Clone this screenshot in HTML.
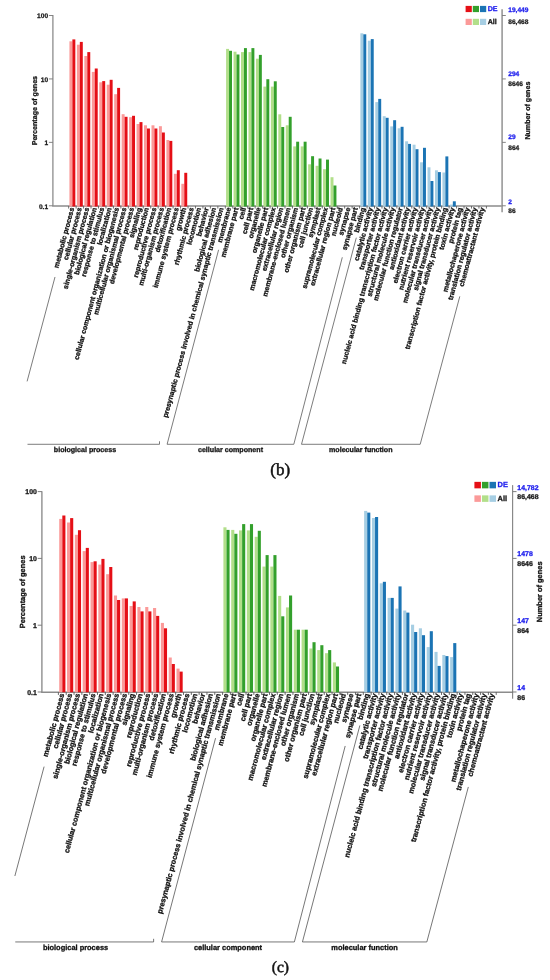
<!DOCTYPE html>
<html><head><meta charset="utf-8"><title>GO classification</title>
<style>html,body{margin:0;padding:0;background:#fff}svg{display:block}text{stroke-width:.28px;text-rendering:geometricPrecision}</style></head>
<body>
<svg width="550" height="980" viewBox="0 0 550 980" font-family="'Liberation Sans', Arial, sans-serif">
<rect width="550" height="980" fill="#fff"/>
<g transform="translate(52.9,15.5) scale(1)">
<g fill="none">
<path d="M0,-0.4 V190.49 H449.2" stroke="#8c8c8c" stroke-width="1.3"/>
<path d="M449.2,196.69 V-6.2" stroke="#999" stroke-width="1.6"/>
<path d="M-4,0 H0 M449.2,0 h3.7 M-4,63.43 H0 M449.2,63.43 h3.7 M-4,126.86 H0 M449.2,126.86 h3.7 M-4,190.29 H0 M449.2,190.29 h3.7 " stroke="#777" stroke-width="0.9"/>
<path d="M15.75,190.69 v2.4 M23.21,190.69 v2.4 M30.67,190.69 v2.4 M38.13,190.69 v2.4 M45.59,190.69 v2.4 M53.05,190.69 v2.4 M60.51,190.69 v2.4 M67.97,190.69 v2.4 M75.43,190.69 v2.4 M82.89,190.69 v2.4 M90.35,190.69 v2.4 M97.81,190.69 v2.4 M105.27,190.69 v2.4 M112.73,190.69 v2.4 M120.19,190.69 v2.4 M127.65,190.69 v2.4 M135.11,190.69 v2.4 M142.57,190.69 v2.4 M150.03,190.69 v2.4 M157.49,190.69 v2.4 M164.95,190.69 v2.4 M172.41,190.69 v2.4 M179.87,190.69 v2.4 M187.33,190.69 v2.4 M194.79,190.69 v2.4 M202.25,190.69 v2.4 M209.71,190.69 v2.4 M217.17,190.69 v2.4 M224.63,190.69 v2.4 M232.09,190.69 v2.4 M239.55,190.69 v2.4 M247.01,190.69 v2.4 M254.47,190.69 v2.4 M261.93,190.69 v2.4 M269.39,190.69 v2.4 M276.85,190.69 v2.4 M284.31,190.69 v2.4 M291.77,190.69 v2.4 M299.23,190.69 v2.4 M306.69,190.69 v2.4 M314.15,190.69 v2.4 M321.61,190.69 v2.4 M329.07,190.69 v2.4 M336.53,190.69 v2.4 M343.99,190.69 v2.4 M351.45,190.69 v2.4 M358.91,190.69 v2.4 M366.37,190.69 v2.4 M373.83,190.69 v2.4 M381.29,190.69 v2.4 M388.75,190.69 v2.4 M396.21,190.69 v2.4 M403.67,190.69 v2.4 M411.13,190.69 v2.4 M418.59,190.69 v2.4 M426.05,190.69 v2.4 M433.51,190.69 v2.4 " stroke-width="0.7" stroke="#333"/>
</g>
<rect x="16.53" y="25.8" width="2.95" height="165.24" fill="#fb9a99"/>
<rect x="19.48" y="23.9" width="2.95" height="167.14" fill="#e50f16"/>
<rect x="23.99" y="29.2" width="2.95" height="161.84" fill="#fb9a99"/>
<rect x="26.94" y="26.4" width="2.95" height="164.64" fill="#e50f16"/>
<rect x="31.45" y="40.5" width="2.95" height="150.54" fill="#fb9a99"/>
<rect x="34.4" y="36.6" width="2.95" height="154.44" fill="#e50f16"/>
<rect x="38.91" y="56.4" width="2.95" height="134.64" fill="#fb9a99"/>
<rect x="41.86" y="53" width="2.95" height="138.04" fill="#e50f16"/>
<rect x="46.37" y="66.8" width="2.95" height="124.24" fill="#fb9a99"/>
<rect x="49.32" y="65.6" width="2.95" height="125.44" fill="#e50f16"/>
<rect x="53.83" y="69.2" width="2.95" height="121.84" fill="#fb9a99"/>
<rect x="56.78" y="64.3" width="2.95" height="126.74" fill="#e50f16"/>
<rect x="61.29" y="78.7" width="2.95" height="112.34" fill="#fb9a99"/>
<rect x="64.24" y="72.4" width="2.95" height="118.64" fill="#e50f16"/>
<rect x="68.75" y="98.7" width="2.95" height="92.34" fill="#fb9a99"/>
<rect x="71.7" y="101.3" width="2.95" height="89.74" fill="#e50f16"/>
<rect x="76.21" y="101.7" width="2.95" height="89.34" fill="#fb9a99"/>
<rect x="79.16" y="100.3" width="2.95" height="90.74" fill="#e50f16"/>
<rect x="83.67" y="108.5" width="2.95" height="82.54" fill="#fb9a99"/>
<rect x="86.62" y="106.6" width="2.95" height="84.44" fill="#e50f16"/>
<rect x="91.13" y="109.8" width="2.95" height="81.24" fill="#fb9a99"/>
<rect x="94.08" y="113" width="2.95" height="78.04" fill="#e50f16"/>
<rect x="98.59" y="109.8" width="2.95" height="81.24" fill="#fb9a99"/>
<rect x="101.54" y="113" width="2.95" height="78.04" fill="#e50f16"/>
<rect x="106.05" y="110.7" width="2.95" height="80.34" fill="#fb9a99"/>
<rect x="109" y="117" width="2.95" height="74.04" fill="#e50f16"/>
<rect x="113.51" y="124.5" width="2.95" height="66.54" fill="#fb9a99"/>
<rect x="116.46" y="125.4" width="2.95" height="65.64" fill="#e50f16"/>
<rect x="120.97" y="158.3" width="2.95" height="32.74" fill="#fb9a99"/>
<rect x="123.92" y="154.7" width="2.95" height="36.34" fill="#e50f16"/>
<rect x="128.43" y="168.3" width="2.95" height="22.74" fill="#fb9a99"/>
<rect x="131.38" y="157.3" width="2.95" height="33.74" fill="#e50f16"/>
<rect x="173.19" y="33.4" width="2.95" height="157.64" fill="#b2df8a"/>
<rect x="176.14" y="35.3" width="2.95" height="155.74" fill="#33a02c"/>
<rect x="180.65" y="36.2" width="2.95" height="154.84" fill="#b2df8a"/>
<rect x="183.6" y="39" width="2.95" height="152.04" fill="#33a02c"/>
<rect x="188.11" y="36.6" width="2.95" height="154.44" fill="#b2df8a"/>
<rect x="191.06" y="32.6" width="2.95" height="158.44" fill="#33a02c"/>
<rect x="195.57" y="36.6" width="2.95" height="154.44" fill="#b2df8a"/>
<rect x="198.52" y="32.6" width="2.95" height="158.44" fill="#33a02c"/>
<rect x="203.03" y="43.2" width="2.95" height="147.84" fill="#b2df8a"/>
<rect x="205.98" y="39.4" width="2.95" height="151.64" fill="#33a02c"/>
<rect x="210.49" y="71.1" width="2.95" height="119.94" fill="#b2df8a"/>
<rect x="213.44" y="63.7" width="2.95" height="127.34" fill="#33a02c"/>
<rect x="217.95" y="71.1" width="2.95" height="119.94" fill="#b2df8a"/>
<rect x="220.9" y="65.8" width="2.95" height="125.24" fill="#33a02c"/>
<rect x="225.41" y="98.8" width="2.95" height="92.24" fill="#b2df8a"/>
<rect x="228.36" y="111.5" width="2.95" height="79.54" fill="#33a02c"/>
<rect x="232.87" y="109.8" width="2.95" height="81.24" fill="#b2df8a"/>
<rect x="235.82" y="101.3" width="2.95" height="89.74" fill="#33a02c"/>
<rect x="240.33" y="130.9" width="2.95" height="60.14" fill="#b2df8a"/>
<rect x="243.28" y="126.2" width="2.95" height="64.84" fill="#33a02c"/>
<rect x="247.79" y="130.9" width="2.95" height="60.14" fill="#b2df8a"/>
<rect x="250.74" y="126.2" width="2.95" height="64.84" fill="#33a02c"/>
<rect x="255.25" y="148.8" width="2.95" height="42.24" fill="#b2df8a"/>
<rect x="258.2" y="140.7" width="2.95" height="50.34" fill="#33a02c"/>
<rect x="262.71" y="150.3" width="2.95" height="40.74" fill="#b2df8a"/>
<rect x="265.66" y="143" width="2.95" height="48.04" fill="#33a02c"/>
<rect x="270.17" y="153.7" width="2.95" height="37.34" fill="#b2df8a"/>
<rect x="273.12" y="144.1" width="2.95" height="46.94" fill="#33a02c"/>
<rect x="277.63" y="161.7" width="2.95" height="29.34" fill="#b2df8a"/>
<rect x="280.58" y="170" width="2.95" height="21.04" fill="#33a02c"/>
<rect x="307.47" y="17.8" width="2.95" height="173.24" fill="#a6cee3"/>
<rect x="310.42" y="18.8" width="2.95" height="172.24" fill="#1b74b4"/>
<rect x="314.93" y="25.2" width="2.95" height="165.84" fill="#a6cee3"/>
<rect x="317.88" y="23.6" width="2.95" height="167.44" fill="#1b74b4"/>
<rect x="322.39" y="86.6" width="2.95" height="104.44" fill="#a6cee3"/>
<rect x="325.34" y="83.4" width="2.95" height="107.64" fill="#1b74b4"/>
<rect x="329.85" y="100.7" width="2.95" height="90.34" fill="#a6cee3"/>
<rect x="332.8" y="102.3" width="2.95" height="88.74" fill="#1b74b4"/>
<rect x="337.31" y="110.9" width="2.95" height="80.14" fill="#a6cee3"/>
<rect x="340.26" y="104.7" width="2.95" height="86.34" fill="#1b74b4"/>
<rect x="344.77" y="112.8" width="2.95" height="78.24" fill="#a6cee3"/>
<rect x="347.72" y="111.3" width="2.95" height="79.74" fill="#1b74b4"/>
<rect x="352.23" y="125.8" width="2.95" height="65.24" fill="#a6cee3"/>
<rect x="355.18" y="128.4" width="2.95" height="62.64" fill="#1b74b4"/>
<rect x="359.69" y="129.2" width="2.95" height="61.84" fill="#a6cee3"/>
<rect x="362.64" y="133.7" width="2.95" height="57.34" fill="#1b74b4"/>
<rect x="367.15" y="146.8" width="2.95" height="44.24" fill="#a6cee3"/>
<rect x="370.1" y="132.3" width="2.95" height="58.74" fill="#1b74b4"/>
<rect x="374.61" y="151.8" width="2.95" height="39.24" fill="#a6cee3"/>
<rect x="377.56" y="165.5" width="2.95" height="25.54" fill="#1b74b4"/>
<rect x="382.07" y="154.8" width="2.95" height="36.24" fill="#a6cee3"/>
<rect x="385.02" y="156.6" width="2.95" height="34.44" fill="#1b74b4"/>
<rect x="389.53" y="157" width="2.95" height="34.04" fill="#a6cee3"/>
<rect x="392.48" y="140.9" width="2.95" height="50.14" fill="#1b74b4"/>
<rect x="396.99" y="189.1" width="2.95" height="1.94" fill="#a6cee3"/>
<rect x="399.94" y="185.8" width="2.95" height="5.24" fill="#1b74b4"/>
<g font-size="6.6" font-weight="bold" fill="#1a1a1a" stroke="#1a1a1a">
<text x="-4.8" y="2.9" text-anchor="end">100</text>
<text x="-4.8" y="66.33" text-anchor="end">10</text>
<text x="-4.8" y="129.76" text-anchor="end">1</text>
<text x="-4.8" y="193.19" text-anchor="end">0.1</text>
<text x="455.4" y="-3.6" fill="#2222ee" stroke="#2222ee">19,449</text>
<text x="455.4" y="8.1">86,468</text>
<text x="455.4" y="60.13" fill="#2222ee" stroke="#2222ee">294</text>
<text x="455.4" y="70.63">8646</text>
<text x="455.4" y="123.56" fill="#2222ee" stroke="#2222ee">29</text>
<text x="455.4" y="134.06">864</text>
<text x="455.4" y="188.79" fill="#2222ee" stroke="#2222ee">2</text>
<text x="455.4" y="197.49">86</text>
</g>
<g font-size="7.1" font-weight="bold" fill="#111" stroke="#111" text-anchor="middle">
<text transform="translate(-16.1,95.14) rotate(-90)">Percentage of genes</text>
<text transform="translate(476.7,95.14) rotate(-90)">Number of genes</text>
</g>
<rect x="412.7" y="-9.6" width="6.2" height="6.2" fill="#e50f16"/>
<rect x="419.9" y="-9.6" width="6.2" height="6.2" fill="#33a02c"/>
<rect x="427.1" y="-9.6" width="6.2" height="6.2" fill="#1b74b4"/>
<text x="434.8" y="-4.7" font-size="7.1" font-weight="bold" fill="#2222ee" stroke="#2222ee">DE</text>
<rect x="412.7" y="3.3" width="6.2" height="6.2" fill="#fb9a99"/>
<rect x="419.9" y="3.3" width="6.2" height="6.2" fill="#b2df8a"/>
<rect x="427.1" y="3.3" width="6.2" height="6.2" fill="#a6cee3"/>
<text x="434.8" y="8.2" font-size="7.1" font-weight="bold" fill="#111" stroke="#111">All</text>
<g font-size="7.1" font-weight="bold" fill="#111" stroke="#111" text-anchor="end">
<text transform="translate(21.48,192.79) rotate(-75)">metabolic process</text>
<text transform="translate(28.94,192.79) rotate(-75)">cellular process</text>
<text transform="translate(36.4,192.79) rotate(-75)">single-organism process</text>
<text transform="translate(43.86,192.79) rotate(-75)">biological regulation</text>
<text transform="translate(51.32,192.79) rotate(-75)">response to stimulus</text>
<text transform="translate(58.78,192.79) rotate(-75)">localization</text>
<text transform="translate(66.24,192.79) rotate(-75)">cellular component organization or biogenesis</text>
<text transform="translate(73.7,192.79) rotate(-75)">multicellular organismal process</text>
<text transform="translate(81.16,192.79) rotate(-75)">developmental process</text>
<text transform="translate(88.62,192.79) rotate(-75)">signaling</text>
<text transform="translate(96.08,192.79) rotate(-75)">reproduction</text>
<text transform="translate(103.54,192.79) rotate(-75)">reproductive process</text>
<text transform="translate(111,192.79) rotate(-75)">multi-organism process</text>
<text transform="translate(118.46,192.79) rotate(-75)">detoxification</text>
<text transform="translate(125.92,192.79) rotate(-75)">immune system process</text>
<text transform="translate(133.38,192.79) rotate(-75)">growth</text>
<text transform="translate(140.84,192.79) rotate(-75)">rhythmic process</text>
<text transform="translate(148.3,192.79) rotate(-75)">locomotion</text>
<text transform="translate(155.76,192.79) rotate(-75)">behavior</text>
<text transform="translate(163.22,192.79) rotate(-75)">biological adhesion</text>
<text transform="translate(170.68,192.79) rotate(-75)">presynaptic process involved in chemical synaptic transmission</text>
<text transform="translate(178.14,192.79) rotate(-75)">membrane</text>
<text transform="translate(185.6,192.79) rotate(-75)">membrane part</text>
<text transform="translate(193.06,192.79) rotate(-75)">cell</text>
<text transform="translate(200.52,192.79) rotate(-75)">cell part</text>
<text transform="translate(207.98,192.79) rotate(-75)">organelle</text>
<text transform="translate(215.44,192.79) rotate(-75)">organelle part</text>
<text transform="translate(222.9,192.79) rotate(-75)">macromolecular complex</text>
<text transform="translate(230.36,192.79) rotate(-75)">extracellular region</text>
<text transform="translate(237.82,192.79) rotate(-75)">membrane-enclosed lumen</text>
<text transform="translate(245.28,192.79) rotate(-75)">other organism</text>
<text transform="translate(252.74,192.79) rotate(-75)">other organism part</text>
<text transform="translate(260.2,192.79) rotate(-75)">cell junction</text>
<text transform="translate(267.66,192.79) rotate(-75)">symplast</text>
<text transform="translate(275.12,192.79) rotate(-75)">supramolecular complex</text>
<text transform="translate(282.58,192.79) rotate(-75)">extracellular region part</text>
<text transform="translate(290.04,192.79) rotate(-75)">nucleoid</text>
<text transform="translate(297.5,192.79) rotate(-75)">synapse</text>
<text transform="translate(304.96,192.79) rotate(-75)">synapse part</text>
<text transform="translate(312.42,192.79) rotate(-75)">binding</text>
<text transform="translate(319.88,192.79) rotate(-75)">catalytic activity</text>
<text transform="translate(327.34,192.79) rotate(-75)">transporter activity</text>
<text transform="translate(334.8,192.79) rotate(-75)">nucleic acid binding transcription factor activity</text>
<text transform="translate(342.26,192.79) rotate(-75)">structural molecule activity</text>
<text transform="translate(349.72,192.79) rotate(-75)">molecular function regulator</text>
<text transform="translate(357.18,192.79) rotate(-75)">antioxidant activity</text>
<text transform="translate(364.64,192.79) rotate(-75)">electron carrier activity</text>
<text transform="translate(372.1,192.79) rotate(-75)">nutrient reservoir activity</text>
<text transform="translate(379.56,192.79) rotate(-75)">molecular transducer activity</text>
<text transform="translate(387.02,192.79) rotate(-75)">signal transducer activity</text>
<text transform="translate(394.48,192.79) rotate(-75)">transcription factor activity, protein binding</text>
<text transform="translate(401.94,192.79) rotate(-75)">toxin activity</text>
<text transform="translate(409.4,192.79) rotate(-75)">protein tag</text>
<text transform="translate(416.86,192.79) rotate(-75)">metallochaperone activity</text>
<text transform="translate(424.32,192.79) rotate(-75)">translation regulator activity</text>
<text transform="translate(431.78,192.79) rotate(-75)">chemoattractant activity</text>
</g>
<path d="M2.1,261.49 L-25.8,365.89 M-25.4,428.79 H106.6 v-3 M165.7,234.29 L114.2,428.79 H240.9 L289.4,241.79 M303.4,222.19 L248.6,428.79 H367.3 L406.9,280.89" stroke="#444" stroke-width="0.7" fill="none"/>
<g font-size="7.1" font-weight="bold" fill="#111" stroke="#111" text-anchor="middle">
<text x="32.1" y="436.59">biological process</text>
<text x="177.6" y="436.59">cellular component</text>
<text x="307.9" y="436.59">molecular function</text>
</g>
</g>
<text x="280.2" y="474.9" font-family="'Liberation Serif', serif" font-size="17" text-anchor="middle" fill="#111" stroke="#111" style="stroke-width:.5px">(b)</text>
<g transform="translate(41.9,491.6) scale(1.048)">
<g fill="none">
<path d="M0,-0.4 V191.42 H449.2" stroke="#8c8c8c" stroke-width="1.3"/>
<path d="M449.2,197.62 V-6.2" stroke="#6a6a6a" stroke-width="0.9"/>
<path d="M-4,0 H0 M449.2,0 h3.7 M-4,63.74 H0 M449.2,63.74 h3.7 M-4,127.48 H0 M449.2,127.48 h3.7 M-4,191.22 H0 M449.2,191.22 h3.7 " stroke="#777" stroke-width="0.9"/>
<path d="M15.75,191.62 v2.4 M23.21,191.62 v2.4 M30.67,191.62 v2.4 M38.13,191.62 v2.4 M45.59,191.62 v2.4 M53.05,191.62 v2.4 M60.51,191.62 v2.4 M67.97,191.62 v2.4 M75.43,191.62 v2.4 M82.89,191.62 v2.4 M90.35,191.62 v2.4 M97.81,191.62 v2.4 M105.27,191.62 v2.4 M112.73,191.62 v2.4 M120.19,191.62 v2.4 M127.65,191.62 v2.4 M135.11,191.62 v2.4 M142.57,191.62 v2.4 M150.03,191.62 v2.4 M157.49,191.62 v2.4 M164.95,191.62 v2.4 M172.41,191.62 v2.4 M179.87,191.62 v2.4 M187.33,191.62 v2.4 M194.79,191.62 v2.4 M202.25,191.62 v2.4 M209.71,191.62 v2.4 M217.17,191.62 v2.4 M224.63,191.62 v2.4 M232.09,191.62 v2.4 M239.55,191.62 v2.4 M247.01,191.62 v2.4 M254.47,191.62 v2.4 M261.93,191.62 v2.4 M269.39,191.62 v2.4 M276.85,191.62 v2.4 M284.31,191.62 v2.4 M291.77,191.62 v2.4 M299.23,191.62 v2.4 M306.69,191.62 v2.4 M314.15,191.62 v2.4 M321.61,191.62 v2.4 M329.07,191.62 v2.4 M336.53,191.62 v2.4 M343.99,191.62 v2.4 M351.45,191.62 v2.4 M358.91,191.62 v2.4 M366.37,191.62 v2.4 M373.83,191.62 v2.4 M381.29,191.62 v2.4 M388.75,191.62 v2.4 M396.21,191.62 v2.4 M403.67,191.62 v2.4 M411.13,191.62 v2.4 M418.59,191.62 v2.4 M426.05,191.62 v2.4 M433.51,191.62 v2.4 " stroke-width="0.7" stroke="#333"/>
</g>
<rect x="16.53" y="26.05" width="2.95" height="165.42" fill="#fb9a99"/>
<rect x="19.48" y="22.81" width="2.95" height="168.66" fill="#e50f16"/>
<rect x="23.99" y="29.48" width="2.95" height="161.99" fill="#fb9a99"/>
<rect x="26.94" y="25.29" width="2.95" height="166.18" fill="#e50f16"/>
<rect x="31.45" y="41.22" width="2.95" height="150.25" fill="#fb9a99"/>
<rect x="34.4" y="36.83" width="2.95" height="154.64" fill="#e50f16"/>
<rect x="38.91" y="56.77" width="2.95" height="134.7" fill="#fb9a99"/>
<rect x="41.86" y="53.72" width="2.95" height="137.75" fill="#e50f16"/>
<rect x="46.37" y="67.27" width="2.95" height="124.2" fill="#fb9a99"/>
<rect x="49.32" y="66.51" width="2.95" height="124.96" fill="#e50f16"/>
<rect x="53.83" y="69.66" width="2.95" height="121.81" fill="#fb9a99"/>
<rect x="56.78" y="64.22" width="2.95" height="127.25" fill="#e50f16"/>
<rect x="61.29" y="78.82" width="2.95" height="112.65" fill="#fb9a99"/>
<rect x="64.24" y="71.95" width="2.95" height="119.52" fill="#e50f16"/>
<rect x="68.75" y="99.14" width="2.95" height="92.33" fill="#fb9a99"/>
<rect x="71.7" y="103.44" width="2.95" height="88.03" fill="#e50f16"/>
<rect x="76.21" y="101.91" width="2.95" height="89.56" fill="#fb9a99"/>
<rect x="79.16" y="101.91" width="2.95" height="89.56" fill="#e50f16"/>
<rect x="83.67" y="109.16" width="2.95" height="82.31" fill="#fb9a99"/>
<rect x="86.62" y="104.77" width="2.95" height="86.7" fill="#e50f16"/>
<rect x="91.13" y="110.11" width="2.95" height="81.36" fill="#fb9a99"/>
<rect x="94.08" y="114.31" width="2.95" height="77.16" fill="#e50f16"/>
<rect x="98.59" y="110.11" width="2.95" height="81.36" fill="#fb9a99"/>
<rect x="101.54" y="114.31" width="2.95" height="77.16" fill="#e50f16"/>
<rect x="106.05" y="111.07" width="2.95" height="80.4" fill="#fb9a99"/>
<rect x="109" y="118.61" width="2.95" height="72.86" fill="#e50f16"/>
<rect x="113.51" y="125.29" width="2.95" height="66.18" fill="#fb9a99"/>
<rect x="116.46" y="130.44" width="2.95" height="61.03" fill="#e50f16"/>
<rect x="120.97" y="158.3" width="2.95" height="33.17" fill="#fb9a99"/>
<rect x="123.92" y="164.5" width="2.95" height="26.97" fill="#e50f16"/>
<rect x="128.43" y="168.89" width="2.95" height="22.58" fill="#fb9a99"/>
<rect x="131.38" y="171.76" width="2.95" height="19.71" fill="#e50f16"/>
<rect x="173.19" y="34.06" width="2.95" height="157.41" fill="#b2df8a"/>
<rect x="176.14" y="36.55" width="2.95" height="154.92" fill="#33a02c"/>
<rect x="180.65" y="36.55" width="2.95" height="154.92" fill="#b2df8a"/>
<rect x="183.6" y="40.27" width="2.95" height="151.2" fill="#33a02c"/>
<rect x="188.11" y="37.02" width="2.95" height="154.45" fill="#b2df8a"/>
<rect x="191.06" y="31.01" width="2.95" height="160.46" fill="#33a02c"/>
<rect x="195.57" y="37.02" width="2.95" height="154.45" fill="#b2df8a"/>
<rect x="198.52" y="31.01" width="2.95" height="160.46" fill="#33a02c"/>
<rect x="203.03" y="43.13" width="2.95" height="148.34" fill="#b2df8a"/>
<rect x="205.98" y="37.4" width="2.95" height="154.07" fill="#33a02c"/>
<rect x="210.49" y="71.56" width="2.95" height="119.91" fill="#b2df8a"/>
<rect x="213.44" y="60.59" width="2.95" height="130.88" fill="#33a02c"/>
<rect x="217.95" y="71.56" width="2.95" height="119.91" fill="#b2df8a"/>
<rect x="220.9" y="60.59" width="2.95" height="130.88" fill="#33a02c"/>
<rect x="225.41" y="99.52" width="2.95" height="91.95" fill="#b2df8a"/>
<rect x="228.36" y="118.99" width="2.95" height="72.48" fill="#33a02c"/>
<rect x="232.87" y="110.5" width="2.95" height="80.97" fill="#b2df8a"/>
<rect x="235.82" y="99.14" width="2.95" height="92.33" fill="#33a02c"/>
<rect x="240.33" y="131.77" width="2.95" height="59.7" fill="#b2df8a"/>
<rect x="243.28" y="131.77" width="2.95" height="59.7" fill="#33a02c"/>
<rect x="247.79" y="131.77" width="2.95" height="59.7" fill="#b2df8a"/>
<rect x="250.74" y="131.77" width="2.95" height="59.7" fill="#33a02c"/>
<rect x="255.25" y="149.71" width="2.95" height="41.76" fill="#b2df8a"/>
<rect x="258.2" y="143.7" width="2.95" height="47.77" fill="#33a02c"/>
<rect x="262.71" y="151.24" width="2.95" height="40.23" fill="#b2df8a"/>
<rect x="265.66" y="146.56" width="2.95" height="44.91" fill="#33a02c"/>
<rect x="270.17" y="154.2" width="2.95" height="37.27" fill="#b2df8a"/>
<rect x="273.12" y="151.24" width="2.95" height="40.23" fill="#33a02c"/>
<rect x="277.63" y="162.98" width="2.95" height="28.49" fill="#b2df8a"/>
<rect x="280.58" y="166.89" width="2.95" height="24.58" fill="#33a02c"/>
<rect x="307.47" y="18.42" width="2.95" height="173.05" fill="#a6cee3"/>
<rect x="310.42" y="20.04" width="2.95" height="171.43" fill="#1b74b4"/>
<rect x="314.93" y="25.19" width="2.95" height="166.28" fill="#a6cee3"/>
<rect x="317.88" y="24.24" width="2.95" height="167.23" fill="#1b74b4"/>
<rect x="322.39" y="87.5" width="2.95" height="103.97" fill="#a6cee3"/>
<rect x="325.34" y="86.07" width="2.95" height="105.4" fill="#1b74b4"/>
<rect x="329.85" y="101.43" width="2.95" height="90.04" fill="#a6cee3"/>
<rect x="332.8" y="101.43" width="2.95" height="90.04" fill="#1b74b4"/>
<rect x="337.31" y="111.64" width="2.95" height="79.83" fill="#a6cee3"/>
<rect x="340.26" y="90.46" width="2.95" height="101.01" fill="#1b74b4"/>
<rect x="344.77" y="113.45" width="2.95" height="78.02" fill="#a6cee3"/>
<rect x="347.72" y="115.46" width="2.95" height="76.01" fill="#1b74b4"/>
<rect x="352.23" y="127" width="2.95" height="64.47" fill="#a6cee3"/>
<rect x="355.18" y="133.97" width="2.95" height="57.5" fill="#1b74b4"/>
<rect x="359.69" y="130.44" width="2.95" height="61.03" fill="#a6cee3"/>
<rect x="362.64" y="137.02" width="2.95" height="54.45" fill="#1b74b4"/>
<rect x="367.15" y="148.38" width="2.95" height="43.09" fill="#a6cee3"/>
<rect x="370.1" y="133.21" width="2.95" height="58.26" fill="#1b74b4"/>
<rect x="374.61" y="152.96" width="2.95" height="38.51" fill="#a6cee3"/>
<rect x="377.56" y="166.32" width="2.95" height="25.15" fill="#1b74b4"/>
<rect x="382.07" y="155.92" width="2.95" height="35.55" fill="#a6cee3"/>
<rect x="385.02" y="156.97" width="2.95" height="34.5" fill="#1b74b4"/>
<rect x="389.53" y="157.92" width="2.95" height="33.55" fill="#a6cee3"/>
<rect x="392.48" y="144.56" width="2.95" height="46.91" fill="#1b74b4"/>
<rect x="396.99" y="189.98" width="2.95" height="1.49" fill="#a6cee3"/>
<g font-size="6.6" font-weight="bold" fill="#1a1a1a" stroke="#1a1a1a">
<text x="-4.8" y="2.15" text-anchor="end">100</text>
<text x="-4.8" y="66.64" text-anchor="end">10</text>
<text x="-4.8" y="130.38" text-anchor="end">1</text>
<text x="-4.8" y="194.12" text-anchor="end">0.1</text>
<text x="453.7" y="-1.75" fill="#2222ee" stroke="#2222ee">14,782</text>
<text x="453.7" y="6.6">86,468</text>
<text x="453.7" y="61.19" fill="#2222ee" stroke="#2222ee">1478</text>
<text x="453.7" y="71.44">8646</text>
<text x="453.7" y="124.93" fill="#2222ee" stroke="#2222ee">147</text>
<text x="453.7" y="135.18">864</text>
<text x="453.7" y="188.92" fill="#2222ee" stroke="#2222ee">14</text>
<text x="453.7" y="198.92">86</text>
</g>
<g font-size="7.1" font-weight="bold" fill="#111" stroke="#111" text-anchor="middle">
<text transform="translate(-16.1,95.61) rotate(-90)">Percentage of genes</text>
<text transform="translate(477.4,95.61) rotate(-90)">Number of genes</text>
</g>
<rect x="412.7" y="-9.3" width="6.2" height="6.2" fill="#e50f16"/>
<rect x="419.9" y="-9.3" width="6.2" height="6.2" fill="#33a02c"/>
<rect x="427.1" y="-9.3" width="6.2" height="6.2" fill="#1b74b4"/>
<text x="434.8" y="-4.4" font-size="7.1" font-weight="bold" fill="#2222ee" stroke="#2222ee">DE</text>
<rect x="412.7" y="3.6" width="6.2" height="6.2" fill="#fb9a99"/>
<rect x="419.9" y="3.6" width="6.2" height="6.2" fill="#b2df8a"/>
<rect x="427.1" y="3.6" width="6.2" height="6.2" fill="#a6cee3"/>
<text x="434.8" y="8.5" font-size="7.1" font-weight="bold" fill="#111" stroke="#111">All</text>
<g font-size="7.1" font-weight="bold" fill="#111" stroke="#111" text-anchor="end">
<text transform="translate(21.48,193.42) rotate(-75)">metabolic process</text>
<text transform="translate(28.94,193.42) rotate(-75)">cellular process</text>
<text transform="translate(36.4,193.42) rotate(-75)">single-organism process</text>
<text transform="translate(43.86,193.42) rotate(-75)">biological regulation</text>
<text transform="translate(51.32,193.42) rotate(-75)">response to stimulus</text>
<text transform="translate(58.78,193.42) rotate(-75)">localization</text>
<text transform="translate(66.24,193.42) rotate(-75)">cellular component organization or biogenesis</text>
<text transform="translate(73.7,193.42) rotate(-75)">multicellular organismal process</text>
<text transform="translate(81.16,193.42) rotate(-75)">developmental process</text>
<text transform="translate(88.62,193.42) rotate(-75)">signaling</text>
<text transform="translate(96.08,193.42) rotate(-75)">reproduction</text>
<text transform="translate(103.54,193.42) rotate(-75)">reproductive process</text>
<text transform="translate(111,193.42) rotate(-75)">multi-organism process</text>
<text transform="translate(118.46,193.42) rotate(-75)">detoxification</text>
<text transform="translate(125.92,193.42) rotate(-75)">immune system process</text>
<text transform="translate(133.38,193.42) rotate(-75)">growth</text>
<text transform="translate(140.84,193.42) rotate(-75)">rhythmic process</text>
<text transform="translate(148.3,193.42) rotate(-75)">locomotion</text>
<text transform="translate(155.76,193.42) rotate(-75)">behavior</text>
<text transform="translate(163.22,193.42) rotate(-75)">biological adhesion</text>
<text transform="translate(170.68,193.42) rotate(-75)">presynaptic process involved in chemical synaptic transmission</text>
<text transform="translate(178.14,193.42) rotate(-75)">membrane</text>
<text transform="translate(185.6,193.42) rotate(-75)">membrane part</text>
<text transform="translate(193.06,193.42) rotate(-75)">cell</text>
<text transform="translate(200.52,193.42) rotate(-75)">cell part</text>
<text transform="translate(207.98,193.42) rotate(-75)">organelle</text>
<text transform="translate(215.44,193.42) rotate(-75)">organelle part</text>
<text transform="translate(222.9,193.42) rotate(-75)">macromolecular complex</text>
<text transform="translate(230.36,193.42) rotate(-75)">extracellular region</text>
<text transform="translate(237.82,193.42) rotate(-75)">membrane-enclosed lumen</text>
<text transform="translate(245.28,193.42) rotate(-75)">other organism</text>
<text transform="translate(252.74,193.42) rotate(-75)">other organism part</text>
<text transform="translate(260.2,193.42) rotate(-75)">cell junction</text>
<text transform="translate(267.66,193.42) rotate(-75)">symplast</text>
<text transform="translate(275.12,193.42) rotate(-75)">supramolecular complex</text>
<text transform="translate(282.58,193.42) rotate(-75)">extracellular region part</text>
<text transform="translate(290.04,193.42) rotate(-75)">nucleoid</text>
<text transform="translate(297.5,193.42) rotate(-75)">synapse</text>
<text transform="translate(304.96,193.42) rotate(-75)">synapse part</text>
<text transform="translate(312.42,193.42) rotate(-75)">binding</text>
<text transform="translate(319.88,193.42) rotate(-75)">catalytic activity</text>
<text transform="translate(327.34,193.42) rotate(-75)">transporter activity</text>
<text transform="translate(334.8,193.42) rotate(-75)">nucleic acid binding transcription factor activity</text>
<text transform="translate(342.26,193.42) rotate(-75)">structural molecule activity</text>
<text transform="translate(349.72,193.42) rotate(-75)">molecular function regulator</text>
<text transform="translate(357.18,193.42) rotate(-75)">antioxidant activity</text>
<text transform="translate(364.64,193.42) rotate(-75)">electron carrier activity</text>
<text transform="translate(372.1,193.42) rotate(-75)">nutrient reservoir activity</text>
<text transform="translate(379.56,193.42) rotate(-75)">molecular transducer activity</text>
<text transform="translate(387.02,193.42) rotate(-75)">signal transducer activity</text>
<text transform="translate(394.48,193.42) rotate(-75)">transcription factor activity, protein binding</text>
<text transform="translate(401.94,193.42) rotate(-75)">toxin activity</text>
<text transform="translate(409.4,193.42) rotate(-75)">protein tag</text>
<text transform="translate(416.86,193.42) rotate(-75)">metallochaperone activity</text>
<text transform="translate(424.32,193.42) rotate(-75)">translation regulator activity</text>
<text transform="translate(431.78,193.42) rotate(-75)">chemoattractant activity</text>
</g>
<path d="M2.1,262.42 L-25.8,366.82 M-25.4,429.72 H106.6 v-3 M165.7,235.22 L114.2,429.72 H240.9 L289.4,242.72 M303.4,223.12 L248.6,429.72 H367.3 L406.9,281.82" stroke="#444" stroke-width="0.7" fill="none"/>
<g font-size="7.1" font-weight="bold" fill="#111" stroke="#111" text-anchor="middle">
<text x="32.1" y="437.52">biological process</text>
<text x="177.6" y="437.52">cellular component</text>
<text x="307.9" y="437.52">molecular function</text>
</g>
</g>
<text x="280.4" y="971.5" font-family="'Liberation Serif', serif" font-size="15.6" text-anchor="middle" fill="#111" stroke="#111" style="stroke-width:.5px">(c)</text>
</svg>
</body></html>
